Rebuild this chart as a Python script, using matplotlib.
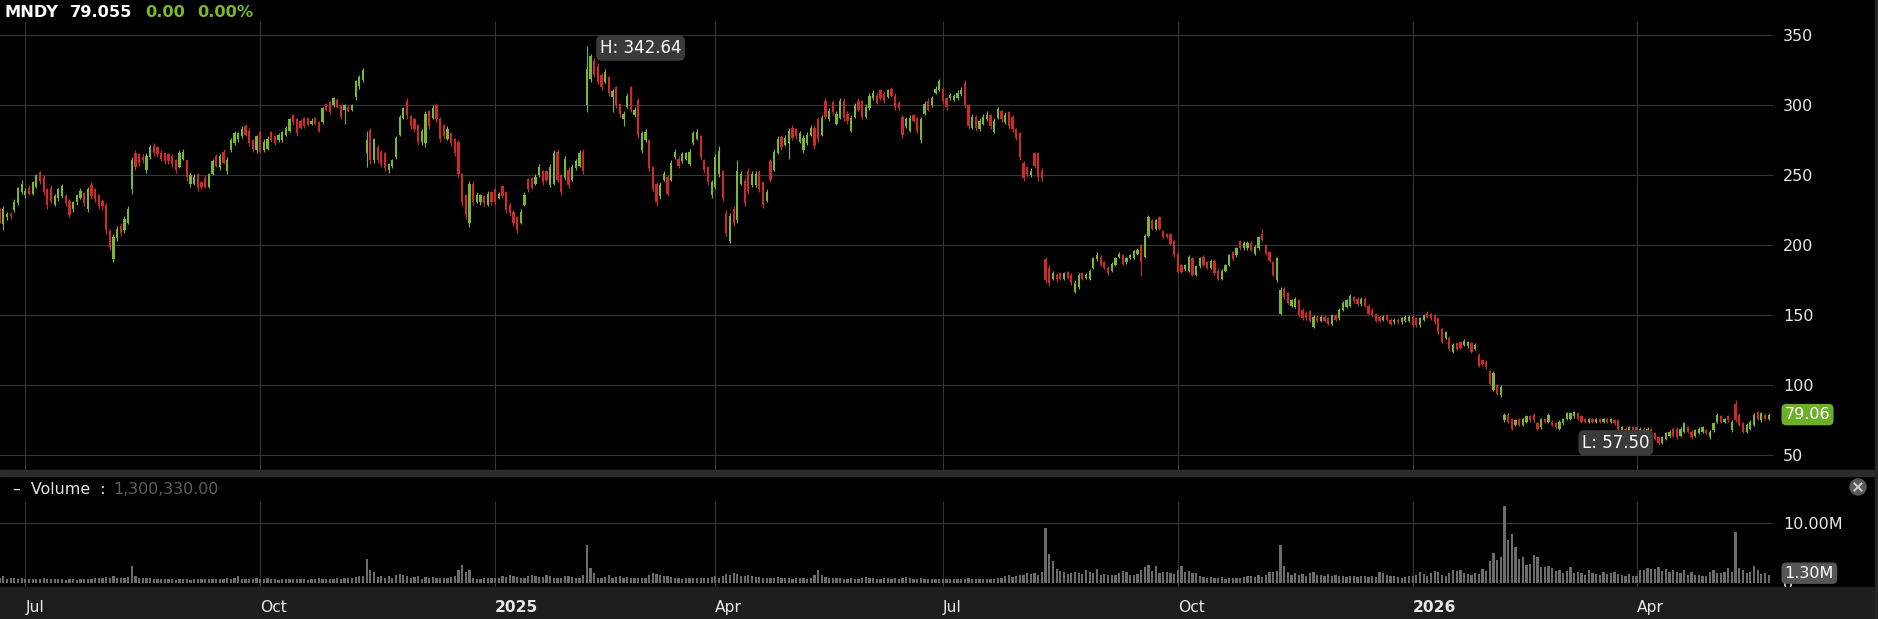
import numpy as np
import matplotlib
matplotlib.use("Agg")
import matplotlib.pyplot as plt
from matplotlib import transforms
from matplotlib.patches import Rectangle, Circle
from matplotlib.lines import Line2D

TICKER = "MNDY"
LAST = "79.055"
CHANGE = "0.00"
CHANGE_PCT = "0.00%"
LAST_VOLUME = "1,300,330.00"

# daily candles, one per trading day (Jun 20 2024 .. May 2026)
OPENS = [
    225, 215, 220, 222, 225, 230, 238, 236, 241, 237,
    242, 252, 249, 240, 241, 229, 234, 235, 235, 232,
    226, 231, 234, 237, 226, 243, 240, 236, 232, 229,
    210, 190, 205, 214, 211, 216, 240, 266, 265, 263,
    254, 263, 271, 270, 266, 266, 265, 264, 261, 256,
    262, 261, 244, 244, 251, 245, 248, 242, 251, 264,
    256, 267, 253, 268, 273, 276, 278, 285, 282, 275,
    268, 281, 268, 269, 281, 278, 275, 275, 279, 282,
    293, 290, 289, 291, 291, 287, 291, 288, 288, 301,
    302, 300, 304, 300, 297, 299, 297, 306, 314, 318,
    266, 282, 261, 270, 267, 266, 254, 257, 263, 279,
    291, 303, 292, 290, 286, 274, 273, 296, 291, 300,
    290, 286, 276, 280, 276, 274, 251, 236, 216, 244,
    231, 231, 235, 229, 238, 240, 234, 242, 238, 229,
    224, 220, 216, 229, 247, 248, 244, 250, 253, 253,
    243, 244, 267, 250, 248, 254, 247, 255, 257, 267,
    300, 319, 332, 328, 322, 317, 320, 306, 313, 301,
    290, 299, 313, 293, 304, 268, 275, 275, 256, 244,
    235, 247, 249, 247, 263, 262, 260, 262, 258, 273,
    276, 278, 261, 256, 236, 242, 251, 253, 223, 203,
    226, 218, 244, 246, 253, 243, 243, 252, 245, 232,
    260, 254, 266, 277, 272, 273, 284, 283, 274, 268,
    273, 279, 284, 290, 279, 303, 290, 302, 287, 291,
    303, 294, 282, 292, 303, 303, 292, 298, 305, 307,
    311, 308, 306, 312, 307, 302, 292, 285, 282, 293,
    291, 275, 294, 303, 300, 309, 311, 312, 305, 305,
    304, 305, 308, 316, 300, 284, 292, 283, 287, 290,
    293, 281, 291, 296, 288, 295, 292, 283, 280, 259,
    256, 250, 266, 266, 253, 190, 184, 176, 179, 180,
    176, 181, 179, 167, 170, 180, 177, 176, 184, 190,
    192, 188, 184, 182, 186, 192, 193, 188, 191, 191,
    194, 200, 192, 207, 218, 212, 220, 210, 208, 208,
    203, 194, 186, 183, 182, 191, 179, 185, 192, 188,
    184, 189, 182, 176, 182, 186, 195, 193, 203, 198,
    198, 202, 194, 198, 208, 200, 195, 188, 175, 151,
    169, 166, 157, 156, 161, 154, 152, 153, 142, 149,
    146, 149, 148, 144, 150, 148, 154, 156, 157, 163,
    162, 158, 162, 157, 154, 151, 149, 147, 150, 147,
    145, 147, 145, 146, 146, 149, 148, 143, 147, 152,
    151, 150, 148, 140, 134, 134, 124, 130, 131, 129,
    128, 130, 126, 122, 118, 117, 110, 97, 100, 93,
    75, 79, 76, 72, 76, 72, 74, 78, 79, 73,
    70, 76, 74, 74, 73, 69, 73, 76, 76, 78,
    80, 78, 76, 74, 76, 74, 76, 74, 76, 74,
    75, 75, 68, 69, 68, 70, 70, 67, 69, 67,
    69, 66, 63, 59, 62, 64, 69, 69, 64, 67,
    70, 67, 64, 66, 67, 68, 63, 68, 74, 78,
    74, 78, 68, 87, 79, 73, 67, 69, 72, 81,
    75, 79, 76,
]
CLOSES = [
    218, 226, 222, 221, 231, 241, 244, 239, 237, 245,
    250, 246, 238, 229, 232, 235, 240, 242, 230, 222,
    231, 236, 239, 230, 240, 235, 233, 228, 228, 211,
    199, 206, 212, 209, 219, 226, 261, 256, 259, 261,
    264, 270, 266, 265, 262, 260, 260, 258, 254, 266,
    267, 249, 250, 249, 241, 242, 242, 251, 260, 257,
    264, 259, 261, 275, 280, 280, 283, 279, 273, 269,
    278, 267, 274, 276, 275, 273, 279, 281, 284, 290,
    288, 280, 284, 285, 286, 289, 287, 282, 298, 297,
    295, 305, 299, 292, 300, 296, 300, 317, 320, 325,
    275, 261, 276, 261, 258, 255, 258, 261, 277, 292,
    298, 293, 285, 283, 274, 282, 294, 285, 298, 290,
    276, 278, 283, 273, 266, 251, 231, 222, 244, 231,
    236, 236, 230, 237, 231, 231, 237, 235, 225, 223,
    216, 211, 224, 236, 240, 241, 249, 256, 245, 247,
    256, 266, 247, 238, 262, 243, 256, 260, 266, 253,
    326, 335, 322, 317, 313, 324, 309, 310, 300, 294,
    294, 307, 297, 297, 279, 280, 281, 255, 240, 231,
    243, 251, 237, 259, 267, 257, 265, 266, 267, 280,
    281, 263, 254, 245, 245, 263, 267, 234, 209, 221,
    216, 253, 251, 230, 239, 251, 251, 240, 229, 238,
    247, 267, 276, 270, 277, 282, 277, 278, 280, 277,
    279, 284, 271, 276, 291, 292, 296, 295, 294, 303,
    291, 289, 291, 300, 297, 292, 299, 307, 309, 302,
    305, 303, 311, 307, 299, 298, 279, 290, 291, 289,
    282, 290, 301, 297, 305, 312, 317, 303, 299, 307,
    307, 309, 311, 300, 285, 292, 284, 289, 292, 293,
    285, 289, 297, 290, 293, 285, 283, 277, 263, 248,
    251, 253, 257, 249, 248, 175, 173, 180, 176, 176,
    180, 177, 173, 173, 179, 176, 179, 182, 191, 193,
    186, 184, 180, 187, 191, 194, 187, 191, 193, 196,
    197, 188, 207, 220, 212, 218, 212, 206, 206, 201,
    193, 181, 181, 186, 192, 179, 185, 191, 186, 184,
    189, 180, 176, 182, 186, 193, 190, 198, 198, 202,
    202, 197, 199, 206, 204, 194, 189, 179, 191, 168,
    163, 159, 161, 162, 150, 148, 148, 146, 149, 146,
    149, 146, 144, 150, 147, 154, 159, 161, 164, 160,
    158, 162, 157, 151, 150, 146, 146, 149, 147, 144,
    147, 145, 148, 149, 149, 143, 143, 148, 150, 149,
    148, 145, 138, 131, 138, 126, 129, 126, 127, 132,
    131, 124, 129, 114, 115, 113, 101, 109, 94, 99,
    79, 74, 69, 75, 72, 76, 78, 75, 75, 69,
    76, 74, 79, 72, 70, 74, 76, 80, 80, 81,
    76, 74, 74, 76, 74, 76, 74, 76, 74, 76,
    73, 69, 70, 67, 70, 68, 68, 69, 67, 69,
    64, 62, 59, 63, 66, 67, 64, 63, 69, 73,
    67, 63, 68, 69, 70, 66, 67, 73, 79, 74,
    76, 75, 74, 75, 72, 67, 72, 74, 79, 76,
    80, 76, 79.06,
]
HIGHS = [
    227, 228, 224, 224, 233, 242, 247, 241, 243, 246,
    251, 253, 250, 241, 243, 237, 241, 244, 237, 233,
    232, 237, 241, 238, 242, 245, 241, 237, 233, 230,
    212, 208, 214, 216, 221, 228, 263, 268, 266, 265,
    266, 272, 273, 271, 268, 267, 266, 265, 262, 268,
    269, 262, 252, 251, 252, 246, 250, 252, 262, 265,
    265, 269, 263, 277, 282, 281, 285, 287, 284, 276,
    279, 282, 276, 278, 282, 279, 280, 282, 285, 291,
    294, 291, 290, 292, 292, 291, 292, 289, 299, 302,
    303, 306, 305, 301, 301, 300, 301, 318, 322, 327,
    282, 284, 277, 272, 268, 267, 259, 262, 278, 293,
    299, 305, 293, 291, 287, 283, 296, 297, 300, 302,
    292, 287, 285, 281, 277, 275, 252, 237, 246, 246,
    238, 237, 236, 239, 239, 241, 238, 243, 239, 230,
    225, 221, 226, 238, 248, 249, 251, 258, 254, 254,
    258, 268, 269, 251, 264, 256, 258, 262, 268, 269,
    342.64, 337, 334, 330, 323, 326, 321, 312, 314, 302,
    296, 309, 314, 299, 305, 282, 283, 276, 257, 245,
    245, 253, 250, 261, 269, 264, 267, 267, 269, 282,
    283, 279, 262, 257, 247, 265, 271, 254, 225, 223,
    228, 261, 253, 248, 255, 253, 253, 254, 246, 240,
    262, 269, 278, 279, 279, 284, 286, 284, 282, 279,
    281, 286, 286, 292, 293, 305, 298, 304, 296, 305,
    305, 296, 293, 302, 305, 304, 301, 309, 311, 309,
    312, 310, 312, 313, 309, 303, 293, 292, 293, 294,
    292, 292, 303, 305, 307, 314, 319, 313, 306, 309,
    308, 311, 313, 318, 301, 294, 293, 291, 294, 296,
    294, 291, 299, 297, 295, 296, 293, 284, 281, 260,
    257, 255, 267, 267, 255, 192, 186, 182, 180, 181,
    181, 182, 180, 175, 180, 181, 180, 183, 192, 195,
    193, 189, 185, 188, 192, 195, 194, 192, 194, 197,
    198, 201, 208, 222, 219, 219, 221, 211, 209, 209,
    204, 195, 187, 187, 193, 192, 186, 192, 193, 189,
    190, 190, 183, 183, 187, 194, 196, 199, 204, 203,
    203, 203, 200, 207, 212, 201, 196, 189, 192, 170,
    170, 167, 162, 163, 162, 155, 153, 154, 150, 150,
    150, 150, 149, 151, 151, 155, 160, 162, 165, 164,
    163, 163, 163, 158, 155, 152, 150, 150, 151, 148,
    148, 148, 149, 150, 150, 150, 149, 149, 151, 153,
    152, 151, 149, 141, 139, 135, 130, 131, 132, 133,
    132, 131, 130, 123, 119, 118, 111, 110, 101, 100,
    80, 80, 77, 76, 77, 77, 79, 79, 80, 74,
    77, 77, 80, 75, 74, 75, 77, 81, 81, 82,
    81, 79, 77, 77, 77, 77, 77, 77, 77, 77,
    76, 76, 71, 70, 71, 71, 71, 70, 70, 70,
    70, 67, 64, 64, 67, 68, 70, 70, 70, 74,
    71, 68, 69, 70, 71, 69, 68, 74, 80, 79,
    77, 79, 75, 89.5, 80, 74, 73, 75, 80, 82,
    81, 80, 80,
]
LOWS = [
    216, 211, 218, 219, 224, 229, 237, 234, 236, 236,
    241, 244, 236, 226, 230, 228, 232, 234, 228, 220,
    224, 229, 233, 228, 224, 233, 231, 226, 225, 208,
    197, 188, 203, 207, 209, 215, 237, 254, 257, 259,
    252, 262, 264, 263, 260, 258, 258, 256, 252, 255,
    261, 246, 242, 243, 239, 240, 241, 241, 250, 256,
    254, 258, 251, 267, 272, 274, 277, 278, 271, 267,
    266, 265, 267, 268, 274, 272, 274, 274, 278, 281,
    286, 278, 283, 284, 285, 286, 286, 281, 287, 296,
    294, 299, 298, 290, 287, 295, 296, 304, 312, 317,
    256, 258, 259, 259, 256, 253, 252, 255, 262, 278,
    290, 291, 283, 281, 272, 272, 270, 283, 290, 288,
    274, 276, 275, 271, 264, 249, 228, 219, 213, 229,
    230, 229, 228, 228, 229, 229, 233, 234, 223, 221,
    214, 209, 215, 228, 238, 240, 243, 249, 243, 246,
    242, 243, 245, 236, 247, 241, 246, 254, 256, 251,
    295, 317, 320, 315, 311, 316, 307, 295, 298, 292,
    285, 298, 295, 292, 277, 266, 274, 253, 238, 228,
    233, 246, 235, 246, 262, 255, 259, 261, 257, 272,
    275, 261, 252, 243, 234, 240, 249, 232, 207, 202,
    214, 216, 243, 228, 237, 242, 242, 238, 227, 231,
    245, 253, 265, 268, 271, 262, 275, 276, 273, 266,
    272, 278, 269, 274, 278, 290, 289, 293, 286, 290,
    289, 287, 281, 291, 296, 290, 291, 297, 304, 301,
    304, 302, 305, 306, 297, 297, 277, 284, 281, 288,
    280, 273, 293, 296, 299, 308, 310, 301, 297, 304,
    303, 304, 307, 298, 283, 283, 282, 282, 286, 289,
    283, 280, 290, 288, 287, 283, 281, 275, 261, 246,
    249, 249, 255, 246, 246, 173, 171, 175, 174, 175,
    175, 176, 172, 166, 169, 175, 176, 175, 183, 189,
    185, 183, 179, 181, 185, 191, 186, 187, 190, 190,
    193, 178, 191, 206, 211, 211, 211, 205, 205, 200,
    192, 180, 180, 182, 181, 178, 178, 184, 185, 183,
    183, 179, 175, 175, 181, 185, 189, 192, 197, 197,
    197, 196, 193, 197, 203, 193, 188, 178, 174, 150,
    162, 158, 156, 155, 149, 147, 147, 145, 141, 145,
    145, 145, 143, 143, 146, 147, 153, 155, 156, 159,
    157, 157, 156, 150, 149, 145, 145, 146, 146, 143,
    144, 144, 144, 145, 145, 142, 142, 142, 146, 148,
    147, 144, 137, 130, 133, 125, 123, 125, 126, 128,
    127, 123, 125, 113, 114, 112, 100, 96, 93, 92,
    74, 73, 68, 71, 71, 71, 73, 74, 74, 68,
    69, 73, 73, 71, 69, 68, 72, 75, 75, 77,
    75, 73, 73, 73, 73, 73, 73, 73, 73, 73,
    72, 68, 67, 66, 67, 67, 67, 66, 66, 66,
    63, 61, 57.5, 58, 61, 63, 63, 62, 63, 66,
    66, 62, 63, 65, 66, 65, 62, 67, 73, 73,
    73, 74, 67, 74, 71, 66, 66, 68, 71, 75,
    74, 75, 75,
]
# volume, millions of shares
VOLUME_M = [
    0.8, 1.1, 0.6, 0.9, 0.9, 0.7, 0.8, 0.6, 0.7, 0.6,
    0.6, 0.7, 0.8, 0.6, 0.6, 0.7, 0.6, 0.7, 0.5, 0.6,
    0.6, 0.5, 0.6, 0.7, 0.6, 0.7, 0.8, 0.8, 0.9, 1.0,
    0.9, 1.2, 0.9, 0.8, 0.8, 1.0, 2.9, 1.2, 0.9, 0.8,
    0.8, 0.9, 0.7, 0.6, 0.7, 0.6, 0.6, 0.6, 0.5, 0.7,
    0.6, 0.6, 0.5, 0.7, 0.6, 0.6, 0.7, 0.6, 0.6, 0.6,
    0.7, 0.6, 0.8, 0.7, 0.8, 1.1, 0.7, 0.6, 0.7, 0.6,
    0.8, 0.6, 0.7, 0.8, 0.6, 0.6, 0.5, 0.6, 0.6, 0.7,
    0.6, 0.7, 0.6, 0.6, 0.5, 0.6, 0.7, 0.8, 0.7, 0.6,
    0.6, 0.7, 0.8, 0.7, 0.8, 0.9, 0.8, 1.0, 1.1, 1.1,
    4.0, 2.2, 1.9, 1.0, 1.1, 0.9, 1.2, 0.8, 1.3, 1.5,
    1.3, 1.1, 0.9, 1.0, 1.1, 0.7, 1.0, 0.9, 1.0, 0.9,
    0.9, 0.8, 0.9, 1.0, 1.2, 2.2, 3.0, 1.8, 2.2, 0.9,
    0.6, 0.7, 0.8, 0.8, 0.9, 0.8, 0.9, 1.2, 1.0, 1.3,
    1.2, 1.0, 0.9, 0.9, 1.2, 1.3, 1.2, 1.0, 1.0, 1.3,
    1.2, 0.9, 0.9, 0.8, 1.1, 1.2, 1.0, 0.9, 0.8, 1.4,
    6.4, 2.5, 1.6, 0.9, 0.8, 1.0, 1.3, 0.9, 1.0, 1.1,
    0.9, 1.0, 0.8, 0.8, 0.9, 0.8, 0.9, 1.3, 1.6, 1.5,
    1.3, 1.2, 1.1, 1.0, 0.9, 0.8, 0.7, 0.9, 0.8, 0.9,
    0.8, 0.9, 0.9, 0.8, 1.0, 1.2, 0.9, 1.1, 1.5, 1.3,
    1.6, 1.5, 1.2, 1.1, 1.3, 1.2, 1.0, 1.0, 0.9, 0.8,
    0.8, 0.9, 1.0, 0.8, 0.9, 0.8, 0.7, 0.8, 0.9, 0.8,
    0.7, 0.8, 1.4, 2.1, 1.4, 1.0, 0.9, 0.8, 0.8, 0.9,
    0.7, 0.7, 0.8, 0.7, 0.7, 0.9, 1.0, 0.8, 0.8, 0.7,
    0.7, 0.8, 0.9, 0.7, 0.8, 0.7, 0.9, 1.0, 0.8, 0.7,
    0.7, 0.8, 0.7, 0.6, 0.7, 0.6, 0.7, 0.6, 0.7, 0.6,
    0.7, 0.7, 0.6, 0.7, 0.8, 0.6, 0.7, 0.6, 0.7, 0.7,
    0.6, 0.7, 0.8, 0.9, 1.1, 1.3, 1.0, 1.2, 1.4, 1.4,
    1.6, 1.5, 1.7, 1.4, 1.9, 9.2, 4.8, 3.6, 2.4, 2.0,
    1.8, 1.5, 1.7, 1.8, 1.6, 1.5, 2.1, 1.9, 1.7, 2.3,
    1.4, 1.5, 1.3, 1.4, 1.3, 1.6, 2.0, 1.8, 1.3, 1.3,
    1.5, 2.2, 2.6, 3.0, 2.0, 2.8, 1.6, 1.8, 1.9, 1.6,
    1.5, 2.2, 2.9, 1.8, 2.0, 1.6, 1.7, 1.1, 1.0, 0.9,
    1.0, 0.8, 0.9, 1.0, 0.7, 0.8, 0.8, 0.9, 0.8, 1.0,
    1.1, 1.2, 1.0, 1.4, 1.0, 1.3, 1.8, 1.8, 2.0, 6.4,
    2.9, 1.9, 1.3, 1.7, 1.4, 1.5, 1.2, 1.6, 1.9, 1.3,
    1.4, 1.2, 1.5, 1.1, 1.3, 1.2, 1.1, 1.0, 1.1, 1.2,
    1.0, 1.1, 1.2, 1.0, 1.1, 1.0, 1.8, 1.6, 1.4, 1.1,
    1.2, 1.0, 0.8, 1.0, 1.1, 1.1, 1.3, 1.9, 1.5, 1.1,
    1.7, 2.0, 1.8, 1.3, 1.2, 1.6, 2.2, 2.0, 2.1, 1.7,
    1.5, 1.4, 1.6, 1.5, 2.3, 2.0, 3.6, 5.0, 3.9, 4.3,
    12.9, 7.1, 8.2, 6.0, 4.0, 4.4, 3.0, 3.2, 4.6, 4.3,
    2.6, 2.6, 2.8, 2.5, 2.0, 2.2, 1.6, 2.0, 2.6, 1.6,
    1.9, 1.6, 1.4, 2.1, 1.6, 1.5, 1.4, 1.8, 1.5, 1.6,
    1.8, 1.5, 1.4, 1.2, 1.5, 1.2, 1.1, 2.1, 2.1, 2.5,
    2.3, 2.4, 2.6, 2.0, 2.4, 1.9, 2.2, 1.9, 1.7, 2.2,
    1.4, 1.8, 1.4, 1.3, 1.2, 1.1, 1.9, 2.2, 1.6, 1.7,
    1.8, 2.5, 1.9, 8.5, 2.5, 2.2, 1.6, 1.9, 2.9, 2.2,
    1.5, 1.6, 1.30033,
]

# first trading day of each labelled month, as candle index
TICK_POS = [7, 71, 135, 195, 257, 321, 385, 446]
TICK_LABELS = ["Jul", "Oct", "2025", "Apr", "Jul", "Oct", "2026", "Apr"]
PRICE_TICKS = [50, 100, 150, 200, 250, 300, 350]
VOL_TICKS = [0, 10]
VOL_TICK_LABELS = ["0", "10.00M"]

UP = "#7cb82f"
DOWN = "#cf2a2a"
GRID = "#363636"
TXT = "#e8e8e8"
VOL = "#6c6c6c"

W, H = 1878, 619


def fx(px):
    return px / W


def fy(py):
    return 1 - py / H


fig = plt.figure(figsize=(W / 100, H / 100), dpi=100, facecolor="black")

# separator between panes and the date strip
fig.patches.append(Rectangle((0, fy(476)), 1, 6 / H, transform=fig.transFigure,
                             color="#2c2c2c", zorder=0))
fig.patches.append(Rectangle((0, 0), 1, (H - 587) / H, transform=fig.transFigure,
                             color="#1e1e1e", zorder=0))
fig.patches.append(Rectangle((fx(1875), 0), 3 / W, 1, transform=fig.transFigure,
                             color="#262626", zorder=0))

ax = fig.add_axes([0, fy(470), fx(1772.7), (470 - 22) / H], facecolor="black")
vax = fig.add_axes([0, fy(587), fx(1772.7), (587 - 476) / H], facecolor="black")

x = np.arange(len(CLOSES))
o = np.array(OPENS, dtype=float)
c = np.array(CLOSES, dtype=float)
hi = np.array(HIGHS, dtype=float)
lo = np.array(LOWS, dtype=float)
col = np.where(c >= o, UP, DOWN)

# candles
ax.vlines(x, lo, hi, colors=col, lw=0.8, zorder=3)
ax.bar(x, np.maximum(np.abs(c - o), 0.6), bottom=np.minimum(o, c), width=0.62,
       color=col, lw=0, zorder=3)

ax.set_xlim(0.1, 483.1)
ax.set_ylim(39.5, 359.5)
ax.set_xticks(TICK_POS)
ax.set_yticks(PRICE_TICKS)
ax.grid(True, color=GRID, lw=0.75)
ax.set_axisbelow(True)
ax.tick_params(axis="x", length=0, labelbottom=False)
ax.tick_params(axis="y", length=0, labelleft=False, labelright=True,
               labelcolor=TXT, labelsize=11.5, pad=7.4)
for s in ax.spines.values():
    s.set_visible(False)

# high / low markers
ih = int(np.argmax(hi))
il = int(np.argmin(lo))
box = dict(boxstyle="round,pad=0.22,rounding_size=0.35", fc="#3a3a3a", ec="none")
ax.annotate(f"H: {hi[ih]:.2f}", xy=(x[ih], hi[ih]), xytext=(13, -2.5),
            textcoords="offset pixels", ha="left", va="center", color="white",
            fontsize=12, bbox=box, zorder=5)
ax.annotate(f"L: {lo[il]:.2f}", xy=(x[il], lo[il]), xytext=(-9, 2),
            textcoords="offset pixels", ha="right", va="center", color="white",
            fontsize=12, bbox=box, zorder=5)

# last price tag
right = transforms.blended_transform_factory(ax.transAxes, ax.transData)
ax.annotate(f"{c[-1]:.2f}", xy=(1, c[-1]), xycoords=right, xytext=(12, 0),
            textcoords="offset pixels", ha="left", va="center", color="white",
            fontsize=11.5, annotation_clip=False, zorder=6,
            bbox=dict(boxstyle="round,pad=0.2,rounding_size=0.3", fc="#6cb02a", ec="none"))

# volume pane
vax.bar(x, VOLUME_M, width=0.62, color=VOL, lw=0)
vax.set_xlim(0.1, 483.1)
vax.set_ylim(-0.67, 17.83)
vax.axhline(VOL_TICKS[1], color=GRID, lw=0.75, zorder=0)
for p in TICK_POS:
    vax.axvline(p, ymin=0, ymax=(587 - 502) / 111, color=GRID, lw=0.75, zorder=0)
vax.set_xticks([])
vax.set_yticks(VOL_TICKS)
vax.set_yticklabels(VOL_TICK_LABELS)
vax.tick_params(axis="y", length=0, labelleft=False, labelright=True,
                labelcolor=TXT, labelsize=11.5, pad=7.4)
for s in vax.spines.values():
    s.set_visible(False)

vright = transforms.blended_transform_factory(vax.transAxes, vax.transData)
vax.annotate(f"{VOLUME_M[-1]:.2f}M", xy=(1, VOLUME_M[-1]), xycoords=vright,
             xytext=(12, 2), textcoords="offset pixels", ha="left", va="center",
             color="white", fontsize=11.5, annotation_clip=False, zorder=6,
             bbox=dict(boxstyle="round,pad=0.2,rounding_size=0.3", fc="#555555", ec="none"))

# header texts
fig.text(fx(5), fy(17), TICKER, color="white", fontsize=11.7, fontweight="bold", va="baseline")
fig.text(fx(70), fy(17), LAST, color="white", fontsize=11.7, fontweight="bold", va="baseline")
fig.text(fx(145), fy(17), CHANGE, color="#7ab929", fontsize=11.7, fontweight="bold", va="baseline")
fig.text(fx(197), fy(17), CHANGE_PCT, color="#7ab929", fontsize=11.7, fontweight="bold", va="baseline")

fig.text(fx(13), fy(494), "–  Volume  :", color=TXT, fontsize=11.4, va="baseline")
fig.text(fx(113), fy(494), LAST_VOLUME, color="#5e5e5e", fontsize=11.4, va="baseline")

# close button of the volume pane
fig.patches.append(Circle((1858, H - 487), 8, transform=transforms.IdentityTransform(),
                          color="#5a5a5a"))
for dx in (-1, 1):
    fig.lines.append(Line2D([1854.5, 1861.5], [H - 487 - 3.5 * dx, H - 487 + 3.5 * dx],
                            transform=transforms.IdentityTransform(), color="#cfcfcf", lw=1.4))

# date labels in the bottom strip
dates = transforms.blended_transform_factory(ax.transData, fig.transFigure)
for p, lab in zip(TICK_POS, TICK_LABELS):
    bold = lab.isdigit()
    fig.text(p, fy(612), lab, transform=dates, ha="left", va="baseline", color=TXT,
             fontsize=11.2, fontweight="bold" if bold else "normal")

fig.savefig("out.png", dpi=100, facecolor="black")
